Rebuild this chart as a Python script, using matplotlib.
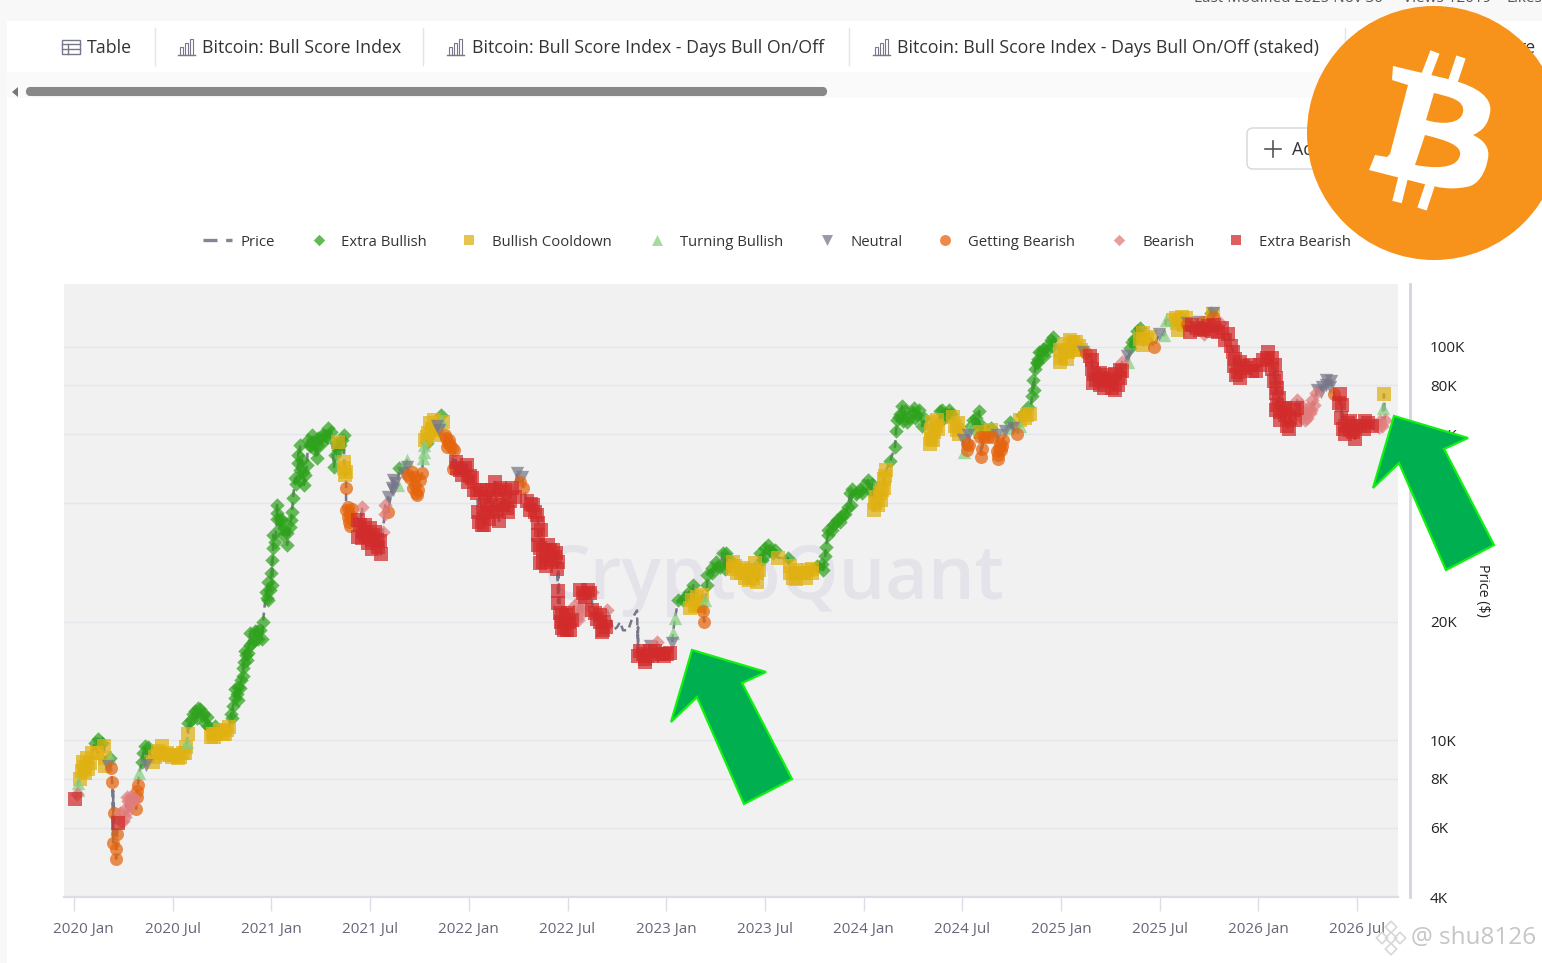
import numpy as np
import matplotlib
matplotlib.use("Agg")
import matplotlib.pyplot as plt
from matplotlib.patches import Circle, FancyBboxPatch, PathPatch, Polygon, Rectangle
from matplotlib.path import Path
from matplotlib.transforms import ScaledTranslation

plt.rcParams['font.family'] = ['Open Sans', 'DejaVu Sans']

# =========================
# DATA: (decimal year, price in $K)
# =========================
extra_bullish = [
    (2020.106, 9.83), (2020.122, 10.1), (2020.142, 9.83), (2020.182, 9.0), (2020.344, 8.8), (2020.350, 9.3),
    (2020.360, 9.65), (2020.375, 9.6), (2020.578, 11.1), (2020.603, 11.7), (2020.623, 11.4), (2020.638, 12.0),
    (2020.659, 11.7), (2020.674, 11.5), (2020.679, 10.9), (2020.714, 10.9), (2020.800, 11.4), (2020.805, 12.2),
    (2020.816, 12.8), (2020.826, 13.1), (2020.841, 13.6), (2020.856, 14.6), (2020.856, 15.3), (2020.876, 16.0),
    (2020.866, 16.9), (2020.902, 17.7), (2020.892, 18.7), (2020.927, 19.0), (2020.952, 18.1), (2020.957, 20.0),
    (2020.978, 23.0), (2020.983, 25.2), (2020.998, 26.6), (2021.003, 28.7), (2021.008, 30.8), (2021.018, 32.0),
    (2021.008, 33.3), (2021.044, 34.6), (2021.028, 36.6), (2021.028, 39.6), (2021.054, 36.3), (2021.079, 33.7),
    (2021.079, 31.4), (2021.094, 34.8), (2021.104, 38.0), (2021.109, 41.2), (2021.120, 46.4), (2021.165, 44.6),
    (2021.135, 50.7), (2021.160, 48.1), (2021.180, 50.1), (2021.145, 56.3), (2021.135, 53.2), (2021.206, 59.6),
    (2021.221, 57.0), (2021.256, 57.0), (2021.231, 52.2), (2021.282, 59.0), (2021.287, 62.1), (2021.322, 53.2),
    (2021.317, 49.5), (2021.358, 58.0), (2021.196, 56.3), (2021.236, 58.6), (2021.267, 59.6), (2021.646, 49.2),
    (2021.788, 57.0), (2021.859, 67.1),
    (2023.060, 22.7), (2023.095, 23.1), (2023.136, 24.8), (2023.207, 24.8), (2023.207, 26.3), (2023.232, 27.4),
    (2023.263, 27.7), (2023.288, 29.9), (2023.298, 27.2), (2023.323, 28.7), (2023.475, 29.9), (2023.501, 30.8),
    (2023.526, 30.4), (2023.541, 29.9), (2023.617, 29.1), (2023.764, 27.7), (2023.795, 27.1), (2023.805, 29.5),
    (2023.810, 31.0), (2023.820, 34.2), (2023.845, 35.2), (2023.866, 36.3), (2023.886, 37.0), (2023.906, 37.7),
    (2023.921, 39.1), (2023.931, 42.6), (2023.967, 42.8), (2023.992, 42.6), (2024.023, 45.9), (2024.134, 51.3),
    (2024.159, 55.7), (2024.164, 61.1), (2024.169, 65.2), (2024.179, 66.5), (2024.195, 70.8), (2024.220, 64.4),
    (2024.245, 68.3), (2024.261, 65.9), (2024.281, 69.1), (2024.296, 62.8), (2024.387, 68.7), (2024.407, 65.9),
    (2024.433, 69.1), (2024.544, 63.0), (2024.570, 65.9), (2024.600, 63.0), (2024.646, 62.2), (2024.742, 64.5),
    (2024.803, 67.1), (2024.833, 70.4), (2024.853, 75.0), (2024.863, 77.7), (2024.858, 82.4), (2024.868, 88.0),
    (2024.878, 91.5), (2024.889, 97.0), (2024.924, 97.7), (2024.955, 100.6), (2024.960, 106.0), (2025.360, 103.0),
    (2025.385, 110.0), (2025.760, 122.0),
    # denser stretches
    (2020.593, 11.3), (2020.613, 11.9), (2020.648, 11.6), (2020.628, 12.1), (2020.664, 11.1), (2020.795, 11.7),
    (2020.816, 13.5), (2020.831, 13.7), (2020.846, 14.2), (2020.831, 12.7), (2020.871, 16.5), (2020.861, 15.8),
    (2020.881, 16.7), (2020.912, 18.0), (2020.892, 17.5), (2020.917, 19.0), (2020.932, 18.1), (2020.942, 19.05),
    (2020.973, 23.9), (2020.983, 22.7), (2020.993, 24.1), (2021.003, 24.8), (2021.028, 37.9), (2021.064, 34.6),
    (2021.044, 36.6), (2021.059, 33.3), (2021.099, 36.3), (2021.145, 45.9), (2021.170, 47.2), (2021.145, 48.6),
    (2021.125, 44.8), (2021.155, 51.6), (2021.196, 56.0), (2021.185, 58.0), (2021.206, 57.3), (2021.236, 56.3),
    (2021.277, 59.3), (2021.302, 60.8), (2021.256, 59.6), (2021.221, 54.7), (2021.327, 57.0), (2021.337, 54.7),
    (2021.368, 59.6), (2021.348, 56.3),
    (2023.085, 22.7), (2023.116, 23.9), (2023.232, 26.6), (2023.252, 28.4), (2023.273, 27.6), (2023.313, 28.4),
    (2023.303, 29.9), (2023.496, 29.5), (2023.516, 31.3), (2023.551, 30.4), (2023.486, 28.7), (2023.790, 28.1),
    (2023.820, 33.2), (2023.840, 34.2), (2023.855, 35.7), (2023.881, 35.9), (2023.896, 37.7), (2023.936, 39.6),
    (2023.941, 43.6), (2023.962, 42.2), (2023.987, 43.3), (2024.002, 44.6), (2024.033, 43.3), (2024.043, 44.8),
    (2024.185, 67.5), (2024.200, 64.8), (2024.210, 68.7), (2024.230, 66.0), (2024.256, 70.0), (2024.271, 67.1),
    (2024.306, 66.0), (2024.397, 69.0), (2024.418, 67.1), (2024.443, 67.5), (2024.555, 65.2), (2024.585, 68.7),
    (2024.575, 62.5), (2024.878, 91.0), (2024.899, 97.0), (2024.909, 98.8), (2024.934, 101.0), (2024.914, 95.0),
    (2024.950, 104.0), (2024.884, 93.0), (2025.350, 99.4), (2025.370, 105.0), (2025.400, 112.0),
]
bullish_cooldown = [
    (2020.030, 8.0), (2020.041, 8.38), (2020.046, 8.8), (2020.066, 9.0), (2020.091, 9.3), (2020.152, 9.65),
    (2020.157, 9.0), (2020.157, 8.6), (2020.400, 8.8), (2020.436, 9.3), (2020.446, 9.65), (2020.471, 9.3),
    (2020.496, 9.1), (2020.512, 9.2), (2020.537, 9.1), (2020.552, 9.3), (2020.567, 9.6), (2020.578, 10.4),
    (2020.694, 10.2), (2020.704, 10.4), (2020.740, 10.6), (2020.755, 10.4), (2020.775, 10.6),
    (2021.337, 57.3), (2021.368, 49.2), (2021.373, 47.2), (2021.793, 60.4), (2021.803, 64.0), (2021.814, 62.0),
    (2021.829, 59.6), (2021.869, 64.5),
    (2023.121, 21.7), (2023.146, 22.0), (2023.156, 23.1), (2023.171, 22.0), (2023.338, 28.4), (2023.359, 26.6),
    (2023.389, 27.4), (2023.410, 27.1), (2023.440, 25.9), (2023.461, 26.6), (2023.461, 25.2), (2023.566, 29.1),
    (2023.627, 27.7), (2023.642, 25.9), (2023.678, 26.6), (2023.708, 25.9), (2023.739, 26.6),
    (2024.058, 40.1), (2024.073, 39.6), (2024.083, 42.6), (2024.104, 43.9), (2024.109, 47.0), (2024.342, 61.5),
    (2024.372, 65.2), (2024.342, 58.3), (2024.337, 56.7), (2024.453, 66.2), (2024.478, 64.0), (2024.483, 60.1),
    (2024.590, 60.9), (2024.646, 61.5), (2024.793, 65.2), (2024.818, 65.9), (2024.843, 67.5),
    (2025.000, 93.7), (2025.031, 93.2), (2025.026, 97.7), (2025.061, 103.0), (2025.091, 100.6), (2025.416, 101.0),
    (2025.436, 105.0), (2025.567, 117.0), (2025.588, 115.0), (2025.613, 119.0), (2025.770, 121.0), (2026.636, 75.8),
    # denser stretches
    (2020.071, 8.48), (2020.081, 8.78), (2020.056, 8.27), (2020.051, 8.55), (2020.117, 9.3), (2020.486, 9.2),
    (2020.461, 9.2), (2020.527, 9.0), (2020.562, 9.3), (2020.426, 9.4), (2020.410, 9.1), (2020.719, 10.4),
    (2020.765, 10.4), (2020.709, 10.2), (2020.785, 10.8), (2021.788, 59.0), (2021.819, 62.0), (2021.824, 65.2),
    (2021.839, 61.5), (2021.778, 58.0), (2021.368, 51.0), (2021.378, 48.0),
    (2023.349, 27.7), (2023.379, 26.6), (2023.399, 25.9), (2023.430, 27.1), (2023.450, 28.2), (2023.420, 25.5),
    (2023.338, 27.2), (2023.471, 27.1), (2023.131, 22.7), (2023.182, 23.4), (2023.156, 22.2), (2023.658, 27.1),
    (2023.627, 26.6), (2023.698, 26.6), (2023.718, 27.1), (2023.658, 25.7), (2023.739, 27.3),
    (2024.063, 41.6), (2024.104, 46.2), (2024.094, 43.3), (2024.114, 48.6), (2024.053, 38.5), (2024.088, 40.8),
    (2024.357, 60.9), (2024.367, 62.8), (2024.347, 64.4), (2024.352, 58.0), (2024.377, 62.0), (2024.463, 62.8),
    (2024.473, 61.5), (2024.828, 67.0), (2024.995, 98.3), (2025.016, 102.0), (2025.046, 104.0), (2025.076, 103.0),
    (2025.101, 98.3), (2024.995, 91.5), (2025.036, 97.2), (2025.066, 98.3), (2025.400, 104.5), (2025.416, 108.5),
    (2025.451, 106.0), (2025.603, 117.0), (2025.583, 118.5), (2025.634, 118.5), (2025.593, 110.5), (2025.623, 113.5),
]
turning_bullish = [
    (2020.020, 7.5), (2020.020, 7.8), (2020.182, 9.0), (2020.329, 8.25), (2020.572, 9.9), (2021.641, 44.6),
    (2021.687, 51.6), (2021.768, 52.2), (2021.773, 54.2), (2021.773, 56.4), (2021.859, 65.2), (2023.034, 18.8),
    (2023.045, 20.5), (2023.197, 22.7), (2024.509, 54.2), (2024.539, 62.2), (2024.727, 62.2), (2024.793, 62.8),
    (2025.340, 91.7), (2025.522, 107.0), (2025.532, 117.0), (2026.631, 70.0),
]
neutral = [
    (2020.172, 8.6), (2020.365, 8.65), (2021.591, 41.5), (2021.611, 43.9), (2021.616, 45.9), (2021.626, 45.2),
    (2021.616, 43.3), (2021.667, 47.8), (2021.687, 49.5), (2021.839, 62.8), (2021.849, 61.5), (2022.244, 47.8),
    (2022.270, 46.6), (2022.918, 17.4), (2023.030, 17.7), (2024.504, 58.0), (2024.529, 59.8), (2024.676, 59.8),
    (2024.717, 61.1), (2024.757, 62.2), (2025.112, 97.0), (2025.335, 94.7), (2025.497, 108.0), (2025.639, 115.0),
    (2025.699, 116.0), (2025.770, 122.0), (2026.297, 77.7), (2026.317, 76.6), (2026.322, 79.0), (2026.343, 80.0),
    (2026.343, 82.4), (2026.363, 79.0), (2026.368, 82.0),
]
getting_bearish = [
    (2020.187, 8.5), (2020.193, 7.85), (2020.203, 6.55), (2020.218, 5.8), (2020.198, 5.5), (2020.213, 5.3),
    (2020.213, 5.0), (2020.314, 6.7), (2020.319, 7.2), (2020.319, 7.45), (2020.324, 7.7), (2021.378, 43.8),
    (2021.378, 38.5), (2021.388, 39.1), (2021.388, 36.9), (2021.393, 36.0), (2021.398, 37.3), (2021.408, 38.8),
    (2021.398, 35.0), (2021.591, 38.0), (2021.692, 47.2), (2021.702, 46.4), (2021.712, 48.1), (2021.728, 46.6),
    (2021.728, 44.5), (2021.733, 42.5), (2021.753, 45.9), (2021.763, 47.8), (2021.717, 43.9), (2021.738, 42.0),
    (2021.743, 43.3), (2021.880, 59.6), (2021.885, 58.8), (2021.895, 57.0), (2021.900, 58.0), (2021.905, 56.3),
    (2021.890, 55.7), (2021.915, 55.4), (2021.925, 54.7), (2021.920, 49.0), (2022.259, 45.3), (2022.275, 43.8),
    (2023.187, 21.3), (2023.192, 20.0), (2024.524, 56.7), (2024.524, 54.7), (2024.534, 56.3), (2024.590, 59.0),
    (2024.610, 59.0), (2024.631, 59.0), (2024.651, 59.0), (2024.600, 55.0), (2024.595, 52.5), (2024.676, 54.4),
    (2024.681, 53.2), (2024.681, 52.0), (2024.686, 55.2), (2024.691, 56.8), (2024.696, 54.7), (2024.701, 56.0),
    (2024.706, 58.0), (2024.777, 60.0), (2025.127, 96.5), (2025.471, 100.0), (2025.639, 114.5), (2025.719, 116.0),
    (2025.770, 119.0), (2026.383, 75.8),
]
bearish = [
    (2020.015, 7.3), (2020.233, 6.55), (2020.238, 6.2), (2020.248, 6.25), (2020.258, 6.7), (2020.258, 6.4),
    (2020.274, 7.0), (2020.274, 6.6), (2020.284, 7.2), (2020.289, 7.0), (2020.299, 7.0), (2020.299, 7.2),
    (2020.309, 7.1), (2020.269, 7.2), (2021.459, 39.1), (2021.565, 33.8), (2021.576, 39.6), (2021.576, 37.7),
    (2022.234, 43.9), (2022.533, 22.0), (2022.543, 20.4), (2022.553, 21.4), (2022.553, 20.2), (2022.563, 22.7),
    (2022.563, 20.8), (2022.573, 21.4), (2022.573, 23.7), (2022.589, 22.4), (2022.589, 23.7), (2022.624, 23.8),
    (2022.700, 21.4), (2022.953, 17.8), (2025.309, 91.7), (2025.725, 108.0), (2025.806, 115.0), (2026.196, 73.3),
    (2026.211, 69.0), (2026.216, 71.0), (2026.221, 65.9), (2026.232, 68.0), (2026.236, 65.2), (2026.242, 68.0),
    (2026.247, 65.9), (2026.252, 69.8), (2026.262, 68.0), (2026.267, 69.0), (2026.272, 73.3), (2026.282, 71.0),
    (2026.292, 76.4), (2026.590, 63.4), (2026.611, 62.6), (2026.616, 65.0), (2026.626, 63.0), (2026.641, 65.2),
]
extra_bearish = [
    (2020.005, 7.1), (2020.223, 6.15), (2021.439, 36.3), (2021.464, 33.8), (2021.439, 32.8), (2021.500, 34.6),
    (2021.490, 31.7), (2021.535, 32.3), (2021.555, 29.7), (2021.515, 33.2), (2021.940, 49.2), (2021.991, 50.1),
    (2021.966, 47.2), (2022.016, 46.4), (2022.042, 42.6), (2022.092, 43.3), (2022.118, 43.3), (2022.168, 42.8),
    (2022.209, 40.6), (2022.072, 37.9), (2022.067, 35.2), (2022.123, 38.0), (2022.153, 36.1), (2022.194, 39.0),
    (2022.092, 39.6), (2022.158, 39.6), (2022.295, 40.6), (2022.315, 39.8), (2022.335, 38.0), (2022.351, 35.7),
    (2022.351, 33.3), (2022.361, 30.8), (2022.361, 28.2), (2022.411, 30.4), (2022.437, 29.3), (2022.447, 27.3),
    (2022.396, 29.3), (2022.452, 24.0), (2022.452, 22.4), (2022.462, 21.1), (2022.472, 19.3), (2022.503, 21.1),
    (2022.513, 19.05), (2022.487, 20.0), (2022.579, 23.7), (2022.614, 23.7), (2022.639, 21.1), (2022.665, 20.0),
    (2022.680, 19.05), (2022.882, 16.6), (2022.893, 15.8), (2022.943, 16.9), (2022.979, 16.6), (2023.004, 16.6),
    (2025.147, 94.7), (2025.157, 88.0), (2025.162, 81.0), (2025.198, 80.0), (2025.228, 85.0), (2025.274, 77.7),
    (2025.299, 83.5), (2025.198, 86.0), (2025.248, 82.4), (2025.654, 109.0), (2025.689, 112.0), (2025.725, 111.0),
    (2025.765, 110.0), (2025.795, 109.0), (2025.846, 108.0), (2025.861, 100.6), (2025.882, 93.2), (2025.887, 85.0),
    (2025.922, 89.5), (2025.968, 87.0), (2026.008, 90.0), (2026.044, 93.7), (2026.069, 88.0), (2026.079, 82.0),
    (2026.089, 76.4), (2026.094, 71.0), (2026.110, 68.3), (2026.135, 67.0), (2026.145, 63.0), (2026.180, 69.0),
    (2026.409, 72.0), (2026.419, 66.0), (2026.454, 64.0), (2026.439, 60.0), (2026.490, 58.3), (2026.515, 63.0),
    (2026.556, 64.0),
    # denser stretches
    (2021.449, 35.2), (2021.474, 35.2), (2021.459, 32.6), (2021.479, 33.3), (2021.510, 32.3), (2021.525, 33.8),
    (2021.540, 31.0), (2021.510, 30.6), (2021.495, 32.9), (2021.550, 32.1), (2021.955, 48.6), (2021.935, 51.0),
    (2021.981, 49.2), (2022.006, 46.9), (2021.996, 45.4), (2022.026, 43.3), (2022.057, 43.3), (2022.082, 41.2),
    (2022.108, 41.5), (2022.133, 45.4), (2022.158, 43.8), (2022.184, 43.3), (2022.219, 43.8), (2022.234, 41.5),
    (2022.097, 38.0), (2022.052, 36.0), (2022.077, 35.2), (2022.102, 36.6), (2022.143, 38.5), (2022.173, 39.6),
    (2022.199, 38.0), (2022.047, 38.0), (2022.310, 38.5), (2022.325, 39.6), (2022.346, 37.5), (2022.366, 34.2),
    (2022.351, 31.4), (2022.376, 30.4), (2022.401, 31.4), (2022.426, 30.4), (2022.416, 28.7), (2022.376, 28.4),
    (2022.391, 27.8), (2022.442, 30.0), (2022.452, 28.4), (2022.472, 20.8), (2022.482, 19.05), (2022.492, 20.8),
    (2022.508, 20.0), (2022.467, 20.0), (2022.497, 19.05), (2022.523, 20.2), (2022.604, 24.1), (2022.563, 24.1),
    (2022.589, 23.1), (2022.649, 20.4), (2022.624, 21.4), (2022.665, 20.8), (2022.685, 20.0), (2022.675, 18.9),
    (2022.695, 19.4), (2022.867, 16.9), (2022.903, 16.4), (2022.918, 16.9), (2022.969, 16.6), (2022.989, 16.4),
    (2023.020, 16.7), (2022.857, 16.4), (2022.928, 16.4), (2022.893, 16.1),
    (2025.157, 92.7), (2025.167, 85.5), (2025.177, 82.4), (2025.213, 83.5), (2025.218, 78.5), (2025.238, 81.8),
    (2025.259, 78.5), (2025.289, 80.0), (2025.274, 85.5), (2025.309, 86.8), (2025.299, 87.4), (2025.664, 114.0),
    (2025.704, 110.4), (2025.745, 113.0), (2025.775, 114.0), (2025.816, 112.0), (2025.831, 104.0), (2025.871, 97.0),
    (2025.877, 89.5), (2025.897, 86.5), (2025.907, 91.5), (2025.937, 88.5), (2025.907, 83.5), (2025.958, 90.0),
    (2025.988, 86.8), (2026.023, 92.7), (2026.049, 97.0), (2026.069, 93.7), (2026.084, 90.0), (2026.089, 83.5),
    (2026.094, 78.5), (2026.105, 74.0), (2026.089, 69.1), (2026.125, 70.0), (2026.110, 65.2), (2026.160, 65.9),
    (2026.135, 70.0), (2026.186, 65.2), (2026.155, 61.9), (2026.196, 70.0), (2026.424, 71.0), (2026.414, 75.8),
    (2026.429, 62.0), (2026.464, 61.5), (2026.464, 65.0), (2026.439, 63.0), (2026.480, 60.9), (2026.500, 63.0),
    (2026.541, 65.0), (2026.576, 63.0), (2026.536, 62.0),
]
# price points that carry no state marker
price_only = [
    (2020.198, 7.45), (2022.715, 20.5), (2022.731, 19.05), (2022.751, 19.4), (2022.766, 20.0), (2022.781, 19.05),
    (2022.807, 19.05), (2022.827, 20.4), (2022.852, 21.4), (2022.857, 19.4), (2022.857, 17.6),
]

state_names = ["Extra Bullish", "Bullish Cooldown", "Turning Bullish", "Neutral",
               "Getting Bearish", "Bearish", "Extra Bearish"]
state_values = [extra_bullish, bullish_cooldown, turning_bullish, neutral,
                getting_bearish, bearish, extra_bearish]
state_markers = ["D", "s", "^", "v", "o", "D", "s"]
state_sizes = [54, 88, 92, 92, 88, 54, 88]
state_colors = ["#2ea31c", "#e0b112", "#86cf82", "#77778a", "#e5650e", "#e27c7c", "#d22b2b"]

tick_years = [2020 + 0.5 * i for i in range(14)]
tick_labels = ["2020 Jan", "2020 Jul", "2021 Jan", "2021 Jul", "2022 Jan", "2022 Jul", "2023 Jan",
               "2023 Jul", "2024 Jan", "2024 Jul", "2025 Jan", "2025 Jul", "2026 Jan", "2026 Jul"]
price_ticks = [4, 6, 8, 10, 20, 40, 60, 80, 100]
price_labels = ["4K", "6K", "8K", "10K", "20K", "40K", "60K", "80K", "100K"]

# =========================
# FIGURE AND PAGE LAYERS
# =========================
W, H = 1542, 963
fig = plt.figure(figsize=(W / 100, H / 100), dpi=100, facecolor="white")


def page_layer(z):
    a = fig.add_axes([0, 0, 1, 1], zorder=z)
    a.set_xlim(0, W)
    a.set_ylim(H, 0)
    a.axis("off")
    return a


back = page_layer(0)
top = page_layer(10)

# page chrome
back.add_patch(Rectangle((0, 0), W, 21, color="#f8f8f8", lw=0))
back.add_patch(Rectangle((0, 0), 7, H, color="#f8f8f8", lw=0))
back.add_patch(Rectangle((7, 72), W, 26, color="#fafafa", lw=0))
back.text(1194, -1, "Last Modified 2025 Nov 30", fontsize=11, color="#555555", va="center")
back.text(1403, -1, "Views 12019", fontsize=11, color="#555555", va="center")
back.text(1506, -1, "Likes", fontsize=11, color="#555555", va="center")

TAB = dict(fontsize=12.75, color="#333333", va="center")
back.text(87, 48, "Table", **TAB)
back.text(202, 48, "Bitcoin: Bull Score Index", **TAB)
back.text(472, 48, "Bitcoin: Bull Score Index - Days Bull On/Off", **TAB)
back.text(897, 48, "Bitcoin: Bull Score Index - Days Bull On/Off (staked)", **TAB)
back.text(1518, 48, "re", **TAB)
for sx in [155, 423, 849, 1345]:
    back.plot([sx, sx], [28, 65], color="#e4e4e4", lw=1)

# tab icons
back.add_patch(Rectangle((62, 40), 18, 14, fill=False, ec="#77778a", lw=1))
back.plot([62, 80], [44, 44], color="#77778a", lw=1)
back.plot([62, 80], [49, 49], color="#77778a", lw=1)
back.plot([68, 68], [44, 54], color="#77778a", lw=1)
for ix in [178, 447, 873]:
    back.plot([ix, ix + 17], [55, 55], color="#77778a", lw=1)
    back.add_patch(Rectangle((ix + 1.5, 47), 3.5, 8, fill=False, ec="#77778a", lw=0.8))
    back.add_patch(Rectangle((ix + 6.5, 43), 3.5, 12, fill=False, ec="#77778a", lw=0.8))
    back.add_patch(Rectangle((ix + 11.5, 39), 3.5, 16, fill=False, ec="#77778a", lw=0.8))

# scrollbar
back.add_patch(FancyBboxPatch((27, 88), 799, 7, boxstyle="round,pad=0,rounding_size=3.5",
                              mutation_aspect=1, fc="#888888", ec="#888888", lw=1.5))
back.add_patch(Polygon([(18, 87), (18, 97), (12, 92)], color="#777777", lw=0))

# button behind the logo
back.add_patch(FancyBboxPatch((1247, 128), 120, 41, boxstyle="round,pad=0,rounding_size=6",
                              fc="white", ec="#d6d6dc", lw=1))
back.plot([1265, 1281], [149, 149], color="#555555", lw=1.2)
back.plot([1273, 1273], [141, 157], color="#555555", lw=1.2)
back.text(1292, 150, "Add", fontsize=12.75, color="#333333", va="center")

# legend row
LEG = dict(fontsize=10.7, color="#333333", va="center")
back.plot([203, 232], [240, 240], color="#77778a", lw=2.4, dashes=(4.2, 2.6), alpha=0.9)
back.text(241, 242, "Price", **LEG)
legend_marker_x = [319, 469, 657, 827, 945, 1119, 1236]
legend_text_x = [341, 492, 680, 851, 968, 1142, 1259]
legend_size = [34, 62, 62, 62, 62, 34, 62]
for n, m, c, mx, tx, s in zip(state_names, state_markers, state_colors, legend_marker_x, legend_text_x, legend_size):
    back.scatter([mx], [240], marker=m, s=s, color=c, alpha=0.75, lw=0)
    back.text(tx, 242, n, **LEG)

# =========================
# CHART
# =========================
ax = fig.add_axes([64 / W, (H - 897) / H, 1334 / W, 613 / H], zorder=5)
ax.set_facecolor("#f1f1f1")
ax.set_yscale("log")
ax.set_xlim(2019.949, 2026.707)
ax.set_ylim(4, 144.5)

ax.set_yticks(price_ticks, price_labels)
ax.yaxis.set_minor_locator(plt.NullLocator())
ax.yaxis.tick_right()
ax.tick_params(axis="y", length=0, pad=14.4, labelsize=11, labelcolor="#222222")
ax.set_xticks(tick_years, tick_labels)
ax.tick_params(axis="x", length=10, width=1, color="#dcdce4", pad=8, labelsize=11, labelcolor="#66667a")
# first label sits right of its tick so it stays on the page
first = ax.get_xticklabels()[0]
first.set_transform(first.get_transform() + ScaledTranslation(9 / 100, 0, fig.dpi_scale_trans))

ax.grid(axis="y", color="#e5e5ec", lw=1)
ax.set_axisbelow(True)
for side in ["top", "left"]:
    ax.spines[side].set_visible(False)
ax.spines["bottom"].set_color("#dcdce4")
ax.spines["bottom"].set_linewidth(1.6)
ax.spines["right"].set_color("#d4d4dc")
ax.spines["right"].set_linewidth(2)
ax.spines["right"].set_position(("outward", 8.6))

ax.text(0.532, 0.517, "CryptoQuant", transform=ax.transAxes, fontsize=53, fontweight="semibold",
        color="#e3e3e9", ha="center", va="center", zorder=1)

# price line runs through every point in time order
all_points = np.array(sum(state_values, []) + price_only)
all_points = all_points[np.argsort(all_points[:, 0], kind="stable")]
ax.plot(all_points[:, 0], all_points[:, 1], color="#77778a", lw=1.8, dashes=(3.2, 2), zorder=2)

for vals, m, s, c in zip(state_values, state_markers, state_sizes, state_colors):
    pts = np.array(vals)
    ax.scatter(pts[:, 0], pts[:, 1], marker=m, s=s, color=c, alpha=0.72, lw=0, zorder=3)

back.text(1482, 590, "Price ($)", fontsize=10.2, color="#222222", rotation=-90, ha="center", va="center")

# =========================
# OVERLAYS ON TOP OF THE CHART
# =========================
arrow = np.array([(692, 650), (766, 672), (742, 683), (792, 779), (744, 804), (697, 697), (671, 722)])
for dx, dy in [(0, 0), (702, -234)]:
    top.add_patch(Polygon(arrow + [dx, dy], closed=True, fc="#00b050", ec="#11f011", lw=1.6))

# bitcoin logo
top.add_patch(Circle((1434, 133), 127, color="#f7931a", lw=0))
M, L, C, Z = Path.MOVETO, Path.LINETO, Path.CURVE4, Path.CLOSEPOLY
outer = [(1393, 66), (1452, 80), (1478, 87), (1493, 98), (1490, 113), (1488, 125), (1482, 131), (1473, 135),
         (1484, 140), (1490, 148), (1488, 158), (1486, 172), (1478, 186), (1466, 187), (1450, 190), (1440, 188), (1420, 183),
         (1369, 170), (1375, 155), (1387, 157), (1390, 154), (1408, 85), (1392, 80), (1393, 66)]
outer_codes = [M, L, C, C, C, C, C, C, C, C, C, C, C, C, C, C, C, L, L, L, L, L, L, Z]
top.add_patch(PathPatch(Path(outer, outer_codes), fc="white", lw=0))
for (x0, y0, x1, y1) in [(1435, 52, 1425, 78), (1461, 57, 1452, 84), (1403, 178, 1397, 202), (1430, 185, 1422, 209)]:
    top.plot([x0, x1], [y0, y1], color="white", lw=7, solid_capstyle="butt")
upper_hole = [(1434, 93), (1450, 97), (1465, 100), (1463, 112), (1461, 124), (1442, 125), (1426, 120), (1434, 93)]
lower_hole = [(1425, 135), (1445, 140), (1462, 145), (1460, 155), (1457, 170), (1432, 168), (1415, 165), (1425, 135)]
hole_codes = [M, C, C, C, C, C, C, Z]
top.add_patch(PathPatch(Path(upper_hole, hole_codes), fc="#f7931a", lw=0))
top.add_patch(PathPatch(Path(lower_hole, hole_codes), fc="#f7931a", lw=0))

# bottom right stamp
top.text(1411, 938, "@ shu8126", fontsize=17.5, color="#c6c6c6", va="center")
for dx, dy in [(0, -11), (-9, 0), (9, 0), (0, 11), (0, 0)]:
    top.scatter([1391 + dx], [938 + dy], marker="D", s=34, facecolor="none", edgecolor="#d8d8d8", lw=1.2)

fig.savefig("out.png", dpi=100)
